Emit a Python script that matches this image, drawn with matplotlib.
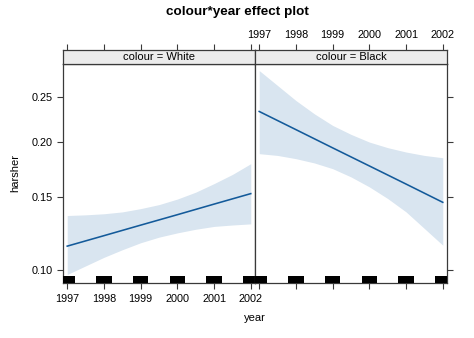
import matplotlib
matplotlib.use("Agg")
import matplotlib.pyplot as plt
from matplotlib.patches import Rectangle
from matplotlib.ticker import NullLocator, FixedLocator, FixedFormatter

plt.rcParams['font.family'] = ['Liberation Sans', 'DejaVu Sans']

# ---- data ----
years = [1997, 1998, 1999, 2000, 2001, 2002]
band_years = [1997, 1997.5, 1998, 1998.5, 1999, 1999.5,
              2000, 2000.5, 2001, 2001.5, 2002]
panels = ["colour = White", "colour = Black"]
fit_white = [0.1147, 0.1216, 0.1289, 0.1365, 0.1446, 0.1530]
upper_white = [0.1359, 0.1364, 0.1372, 0.1386, 0.1411, 0.1442,
               0.1486, 0.1542, 0.1614, 0.1694, 0.1792]
lower_white = [0.0977, 0.1026, 0.1077, 0.1124, 0.1169, 0.1206,
               0.1235, 0.1260, 0.1280, 0.1290, 0.1298]
fit_black = [0.2330, 0.2131, 0.1944, 0.1771, 0.1610, 0.1460]
upper_black = [0.2824, 0.2636, 0.2456, 0.2304, 0.2176, 0.2081,
               0.2002, 0.1946, 0.1903, 0.1870, 0.1848]
lower_black = [0.1887, 0.1870, 0.1839, 0.1799, 0.1746, 0.1672,
               0.1586, 0.1490, 0.1386, 0.1265, 0.1153]
y_ticks = [0.10, 0.15, 0.20, 0.25]
y_tick_labels = ["0.10", "0.15", "0.20", "0.25"]
x_tick_labels = ["1997", "1998", "1999", "2000", "2001", "2002"]

fits = [fit_white, fit_black]
uppers = [upper_white, upper_black]
lowers = [lower_white, lower_black]

# ---- style ----
W, H = 474, 338
fig = plt.figure(figsize=(W / 100, H / 100), dpi=100)
line_col = '#135a9a'
band_col = '#d9e5f0'
frame_col = '#3a3a3a'
strip_col = '#ececec'
fs = 7.8

left0 = 63 / W
pw = 192 / W
bottom = 1 - 283.3 / H
ph = 219.3 / H
strip_b = 1 - 64 / H
strip_h = 14 / H
xlim = (1997 - 0.115, 2002 + 0.115)
ylim = (0.0929, 0.2909)

for i in range(2):
    x0 = left0 + i * pw
    ax = fig.add_axes([x0, bottom, pw, ph])
    ax.set_yscale('logit')
    ax.fill_between(band_years, lowers[i], uppers[i], color=band_col, lw=0,
                    zorder=1)
    ax.plot(years, fits[i], color=line_col, lw=1.15, zorder=2)
    for yr in years:
        ax.add_patch(Rectangle((yr - 0.21, 0), 0.42, 0.035,
                               transform=ax.get_xaxis_transform(),
                               facecolor='black', edgecolor='none', zorder=3))
    ax.set_xlim(*xlim)
    ax.set_ylim(*ylim)
    ax.yaxis.set_major_locator(FixedLocator(y_ticks))
    ax.yaxis.set_major_formatter(FixedFormatter(y_tick_labels))
    ax.yaxis.set_minor_locator(NullLocator())
    ax.set_xticks(years)
    ax.set_xticklabels(x_tick_labels)
    for s in ax.spines.values():
        s.set_color(frame_col)
        s.set_linewidth(0.9)
    ax.tick_params(axis='both', direction='out', length=4, width=0.8,
                   color=frame_col, labelsize=fs, pad=3.5)
    if i == 0:
        ax.tick_params(axis='y', left=True, right=False, labelleft=True)
        ax.tick_params(axis='x', bottom=True, labelbottom=True)
    else:
        ax.tick_params(axis='y', left=False, right=True, labelleft=False,
                       labelright=False)
        ax.tick_params(axis='x', bottom=True, labelbottom=False)

    sax = fig.add_axes([x0, strip_b, pw, strip_h])
    sax.set_facecolor(strip_col)
    sax.set_xlim(*xlim)
    sax.set_ylim(0, 1)
    sax.set_yticks([])
    sax.set_xticks(years)
    sax.set_xticklabels(x_tick_labels)
    for s in sax.spines.values():
        s.set_color(frame_col)
        s.set_linewidth(0.9)
    sax.tick_params(axis='x', top=True, bottom=False, labelbottom=False,
                    labeltop=(i == 1), direction='out', length=4, width=0.8,
                    color=frame_col, labelsize=fs, pad=3.5)
    sax.text(0.5, 0.5, panels[i], transform=sax.transAxes, ha='center',
             va='center', fontsize=8)

fig.text(0.5, 1 - 12 / H, "colour*year effect plot", ha='center', va='center',
         fontsize=9.7, fontweight='bold')
fig.text(15 / W, 1 - 173.5 / H, "harsher", rotation=90, ha='center',
         va='center', fontsize=8)
fig.text(255 / W, 1 - 318 / H, "year", ha='center', va='center', fontsize=8)

fig.savefig("out.png", dpi=100)
